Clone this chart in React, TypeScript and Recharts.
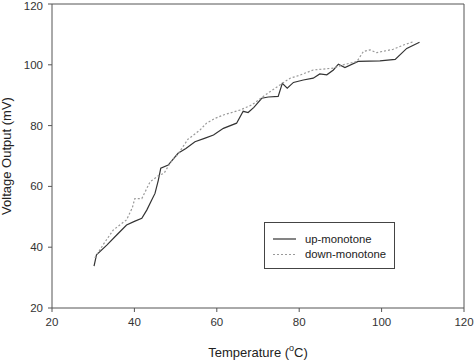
import { LineChart, Line, XAxis, YAxis, ReferenceLine } from "recharts"

const upTemp = [30.2, 30.8, 33.3, 35.7, 38.1, 40, 41.8, 43, 44.2, 45, 45.8, 46.4, 48.2, 50.6, 52.5, 54.7, 57, 59.2, 61.6, 64.8, 66.4, 67.6, 69, 70.9, 72.5, 74.9, 75.9, 77.1, 78.6, 81, 83.4, 85, 86.7, 88.3, 89.5, 91.1, 94.3, 99.6, 103.3, 106.1, 109.2]
const upVoltage = [33.8, 37.5, 40.7, 44, 47.3, 48.5, 49.5, 52.2, 55.5, 57.7, 62, 66, 67, 70.9, 72.5, 74.7, 75.8, 76.9, 79.1, 80.8, 84.7, 84.3, 86, 89, 89.4, 89.6, 93.9, 92.3, 94.2, 95, 95.6, 97, 96.7, 98.3, 100.2, 99.1, 101.1, 101.3, 101.8, 105.4, 107.4]

const downTemp = [30.4, 32.5, 34.9, 38.1, 39.5, 40.1, 41.8, 43.8, 45.8, 47.2, 48.8, 50.5, 53, 55.9, 57.5, 59.6, 61.6, 65.6, 68.5, 71.7, 73.7, 77.8, 80, 83.4, 88.3, 90.7, 94, 95.6, 97.2, 98.8, 102.8, 105.3, 107.7]
const downVoltage = [36.5, 41, 45.7, 49, 53, 56, 56, 61.5, 63.5, 64.3, 68, 70.5, 75.5, 78.5, 80.8, 82.4, 83.5, 85.1, 86.8, 90, 91.9, 95.6, 96.5, 98.3, 98.9, 100, 101.1, 104.4, 104.9, 104, 105.1, 106.5, 107.6]

const xTicks = [20, 40, 60, 80, 100, 120]
const yTicks = [20, 40, 60, 80, 100, 120]

const upData = upTemp.map((t, i) => ({ t, v: upVoltage[i] }))
const downData = downTemp.map((t, i) => ({ t, v: downVoltage[i] }))

const font = "'Liberation Sans', Arial, sans-serif"

function XTitle({ viewBox }: any) {
  const cx = viewBox.x + viewBox.width / 2
  return (
    <text x={cx} y={357} fontSize={13} fill="#222" fontFamily={font} textAnchor="middle">
      Temperature (<tspan fontSize={9} dy={-6}>o</tspan><tspan dy={6}>C)</tspan>
    </text>
  )
}

function LegendBox() {
  return (
    <div style={{ position: "absolute", left: 264, top: 222, width: 131, height: 47, border: "1px solid #444", boxSizing: "border-box", background: "#fff" }}>
      <svg width={129} height={45} style={{ display: "block" }}>
        <line x1={8} x2={31} y1={16} y2={16} stroke="#333" strokeWidth={1.2} />
        <text x={40} y={19.5} fontFamily={font} fontSize={11.3} fill="#222">up-monotone</text>
        <line x1={8} x2={31} y1={31.5} y2={31.5} stroke="#999" strokeWidth={1.2} strokeDasharray="2 2" />
        <text x={40} y={34.5} fontFamily={font} fontSize={11.3} fill="#222">down-monotone</text>
      </svg>
    </div>
  )
}

export default function App() {
  return (
    <div style={{ position: "absolute", left: 0, top: 0, width: 474, height: 363, background: "#fff" }}>
      <LineChart width={474} height={363} margin={{ top: 4, right: 10, left: 0, bottom: 0 }}>
        <XAxis
          xAxisId="b"
          type="number"
          dataKey="t"
          domain={[20, 120]}
          ticks={xTicks}
          height={55}
          stroke="#555"
          tickSize={4}
          tick={{ fill: "#333", fontSize: 11.5, fontFamily: font }}
          tickMargin={6}
          label={<XTitle />}
        />
        <YAxis
          yAxisId="l"
          type="number"
          domain={[20, 120]}
          ticks={yTicks}
          width={52}
          stroke="#555"
          tickSize={4}
          tick={{ fill: "#333", fontSize: 11.5, fontFamily: font }}
          tickMargin={5}
          label={{ value: "Voltage Output (mV)", angle: -90, position: "insideLeft", offset: 6, style: { textAnchor: "middle", fill: "#222", fontSize: 13, fontFamily: font } }}
        />
        <ReferenceLine xAxisId="b" yAxisId="l" y={120} stroke="#555" />
        <ReferenceLine xAxisId="b" yAxisId="l" x={120} stroke="#555" />
        <Line xAxisId="b" yAxisId="l" data={upData} dataKey="v" name="up-monotone" type="linear" stroke="#333" strokeWidth={1.2} dot={false} isAnimationActive={false} />
        <Line xAxisId="b" yAxisId="l" data={downData} dataKey="v" name="down-monotone" type="linear" stroke="#999" strokeWidth={1.2} strokeDasharray="2 2" dot={false} isAnimationActive={false} />
      </LineChart>
      <LegendBox />
    </div>
  )
}
